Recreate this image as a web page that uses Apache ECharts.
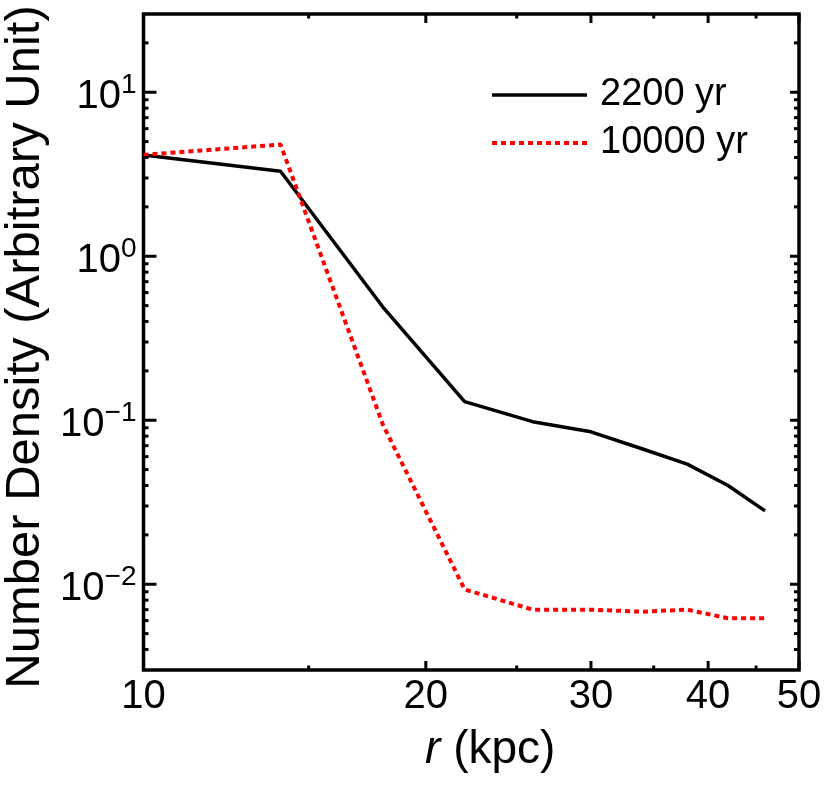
<!DOCTYPE html>
<html>
<head>
<meta charset="utf-8">
<script src="https://cdn.jsdelivr.net/npm/echarts@6/dist/echarts.min.js"></script>
<style>
  html, body { margin: 0; padding: 0; background: #fff; }
  #chart { width: 830px; height: 796px; }
</style>
</head>
<body>
<div id="chart"></div>
<script>
// ---- data ----
const radius = [10, 14, 18, 22, 26, 30, 34, 38, 42, 46];
const density2200 = [4.15, 3.3, 0.49, 0.13, 0.098, 0.085, 0.067, 0.054, 0.040, 0.028];
const density10000 = [4.15, 4.8, 0.094, 0.0093, 0.0070, 0.0070, 0.0068, 0.0070, 0.0062, 0.0062];

const xRange = [10, 50];
const yRange = [0.003, 30];
const xMajorTicks = [10, 20, 30, 40, 50];
const xTickLabels = ['10', '20', '30', '40', '50'];
const xMinorTicks = [15, 25, 35, 45];
const yMajorTicks = [0.01, 0.1, 1, 10];
const yTickExponents = ['\u22122', '\u22121', '0', '1'];
const yMinorTicks = [0.004, 0.005, 0.006, 0.007, 0.008, 0.009,
  0.02, 0.03, 0.04, 0.05, 0.06, 0.07, 0.08, 0.09,
  0.2, 0.3, 0.4, 0.5, 0.6, 0.7, 0.8, 0.9,
  2, 3, 4, 5, 6, 7, 8, 9, 20];
const seriesNames = ['2200 yr', '10000 yr'];

const FONT = '"Liberation Sans", Arial, Helvetica, sans-serif';
const TICK_W = 3;

function tickLine(x1, y1, x2, y2) {
  return { type: 'line', shape: { x1, y1, x2, y2 }, style: { stroke: '#000', lineWidth: TICK_W } };
}

function renderAxes(params, api) {
  const children = [];
  xMajorTicks.forEach((v, i) => {
    const b = api.coord([v, yRange[0]]);
    const t = api.coord([v, yRange[1]]);
    children.push(tickLine(b[0], b[1], b[0], b[1] - 9));
    children.push(tickLine(t[0], t[1], t[0], t[1] + 9));
    children.push({
      type: 'text', x: b[0], y: b[1] + 7,
      style: { text: xTickLabels[i], fill: '#000', fontSize: 40, fontFamily: FONT, align: 'center', verticalAlign: 'top' }
    });
  });
  xMinorTicks.forEach(v => {
    const b = api.coord([v, yRange[0]]);
    const t = api.coord([v, yRange[1]]);
    children.push(tickLine(b[0], b[1], b[0], b[1] - 4.5));
    children.push(tickLine(t[0], t[1], t[0], t[1] + 4.5));
  });
  yMajorTicks.forEach((v, i) => {
    const l = api.coord([xRange[0], v]);
    const r = api.coord([xRange[1], v]);
    children.push(tickLine(l[0], l[1], l[0] + 13, l[1]));
    children.push(tickLine(r[0], r[1], r[0] - 9, r[1]));
    children.push({
      type: 'text', x: l[0] - 7, y: l[1] + 5,
      style: {
        text: '{b|10}{s|' + yTickExponents[i] + '}',
        fill: '#000', align: 'right', verticalAlign: 'middle',
        rich: {
          b: { fontSize: 40, fontFamily: FONT, lineHeight: 52, fill: '#000' },
          s: { fontSize: 28, fontFamily: FONT, lineHeight: 16, verticalAlign: 'top', fill: '#000' }
        }
      }
    });
  });
  yMinorTicks.forEach(v => {
    const l = api.coord([xRange[0], v]);
    const r = api.coord([xRange[1], v]);
    children.push(tickLine(l[0], l[1], l[0] + 5, l[1]));
    children.push(tickLine(r[0], r[1], r[0] - 5, r[1]));
  });
  return { type: 'group', children };
}

const chart = echarts.init(document.getElementById('chart'), null, { renderer: 'canvas' });
chart.setOption({
  animation: false,
  backgroundColor: '#fff',
  grid: {
    left: 143.5, right: 31, top: 14, bottom: 126,
    outerBoundsMode: 'none', containLabel: false,
    show: true, borderColor: '#000', borderWidth: 3.5, backgroundColor: 'transparent'
  },
  legend: {
    data: seriesNames,
    orient: 'vertical',
    left: 485, top: 70,
    itemWidth: 95, itemHeight: 20, itemGap: 8,
    selectedMode: false,
    lineStyle: { width: 'inherit' },
    itemStyle: { color: 'rgba(0,0,0,0)', borderWidth: 0, opacity: 0 },
    textStyle: { fontSize: 38, fontFamily: FONT, color: '#000', lineHeight: 40, padding: [0, 0, 0, 8] }
  },
  xAxis: {
    type: 'log', logBase: 10, min: xRange[0], max: xRange[1],
    axisLine: { show: false }, axisTick: { show: false }, axisLabel: { show: false }, splitLine: { show: false },
    name: '{i|r} (kpc)', nameLocation: 'middle', nameGap: 57,
    nameTextStyle: {
      fontSize: 46, fontFamily: FONT, color: '#000', padding: [0, 0, 0, 38],
      rich: { i: { fontSize: 46, fontFamily: FONT, fontStyle: 'italic', color: '#000' } }
    }
  },
  yAxis: {
    type: 'log', logBase: 10, min: yRange[0], max: yRange[1],
    axisLine: { show: false }, axisTick: { show: false }, axisLabel: { show: false }, splitLine: { show: false },
    name: 'Number Density (Arbitrary Unit)', nameLocation: 'middle', nameGap: 94,
    nameTextStyle: { fontSize: 49, fontFamily: FONT, color: '#000', padding: [0, 10, 0, 0] }
  },
  series: [
    {
      name: seriesNames[0], type: 'line', symbol: 'none',
      data: radius.map((x, i) => [x, density2200[i]]),
      lineStyle: { color: '#000', width: 3.5 }, itemStyle: { color: '#000' }
    },
    {
      name: seriesNames[1], type: 'line', symbol: 'none',
      data: radius.map((x, i) => [x, density10000[i]]),
      lineStyle: { color: '#ff0000', width: 4, type: [5, 4], cap: 'butt' }, itemStyle: { color: '#ff0000' }
    },
    {
      type: 'custom', silent: true, renderItem: renderAxes,
      data: [[xRange[0], yRange[0]]], z: 5
    }
  ]
});
</script>
</body>
</html>
